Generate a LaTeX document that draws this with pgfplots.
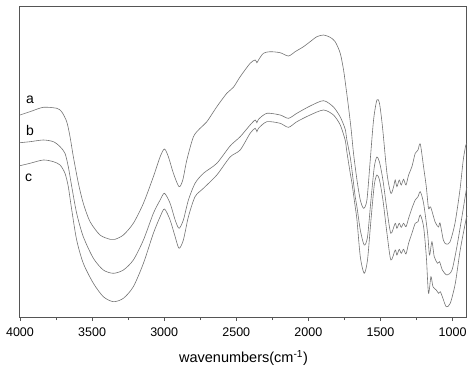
\documentclass[border=0pt]{standalone}
\usepackage{fontspec}
\setmainfont{Liberation Sans}
\usepackage{pgfplots}
\usepackage{pgfplotstable}
\pgfplotsset{compat=1.18}
\definecolor{curve}{RGB}{115,115,115}
\definecolor{frame}{RGB}{85,85,85}

\pgfplotstableread{
wn h
4000 202
3931 205.3
3838 209.7
3745 208.7
3711 205.3
3676 195.3
3653 180.3
3630 160.3
3595 133.7
3561 113.7
3514 95.3
3445 82
3375 77.7
3341 77.7
3283 82
3214 93.7
3144 113.7
3075 140.3
3028 160.3
2998 168
2971 160.3
2936 143.7
2897 130.3
2871 137
2843 157
2797 180.3
2751 188.7
2704 195.3
2635 210.3
2566 223.7
2520 229.7
2473 240.3
2404 253.7
2369 257
2357 254.3
2346 257
2312 263.7
2265 265.3
2196 264.3
2138 261
2092 265.3
2034 270.3
1988 275.3
1941 280.3
1895 282
1849 279.7
1814 275.3
1779 263.7
1756 247
1740 230.3
1722 210.3
1703 187
1687 163.7
1663 137
1640 117
1617 108.7
1594 117
1571 157
1548 197
1525 217
1507 213.7
1486 190
1455 143.7
1428 123.7
1409 130.3
1398 137
1386 130.3
1370 137
1356 132
1340 137.7
1323 132
1305 142
1282 150.3
1259 163.7
1240 167
1224 173
1201 150
1182 130
1167 108.7
1152 110
1121 95
1098 90
1087 94
1064 77
1045 73
1018 75
983 94
949 127
926 157
908 172
900 173
}\dataA

\pgfplotstableread{
wn h
4000 174.3
3931 175.3
3838 177
3768 175.3
3722 170.3
3688 163.7
3665 150.3
3641 130.3
3607 103.7
3561 80.3
3491 58.7
3422 47
3352 43.7
3283 47
3214 57
3144 77
3075 103.7
3028 117
2998 123.7
2959 113.7
2924 97
2897 88.7
2867 97
2832 117
2786 133.7
2728 143.7
2635 153.7
2543 171
2473 180.3
2404 192
2369 197
2357 194.3
2346 197.7
2288 203.7
2196 202
2138 198.7
2080 203.7
1988 211
1895 216.3
1826 210
1779 200
1745 188
1733 177
1710 160
1698 147
1675 120
1663 110
1640 87
1613 72
1590 80
1566 117
1543 150
1525 160
1507 155
1483 137
1455 107
1428 83.7
1398 93.7
1386 88.7
1370 93.7
1356 89.7
1340 93.7
1323 90.3
1305 98.7
1282 108.7
1259 117
1240 120.3
1224 125.3
1201 113.7
1173 83.7
1160 62
1143 75.3
1127 60.3
1104 53.7
1090 55.3
1071 47
1039 42
1004 47
970 70.3
935 100.3
905 127
900 129
}\dataB

\pgfplotstableread{
wn h
4000 151.3
3931 153.7
3838 157
3768 155.3
3722 152
3688 143.7
3665 130.3
3641 107
3607 77
3561 53.7
3491 33.7
3422 20.3
3352 15.3
3283 18.7
3214 30.3
3144 53.7
3075 83.7
3028 100.3
2998 108
2959 97
2924 80.3
2897 68.7
2867 77
2832 100.3
2786 120.3
2728 128.7
2635 142
2543 160
2473 167
2404 183.7
2369 188.7
2357 185.3
2346 188.7
2288 195.3
2196 193.7
2138 189.7
2080 195.3
1988 202
1895 207
1826 202
1779 192
1745 177
1733 165
1710 144
1698 134
1675 110
1663 97
1640 60.3
1613 43.7
1590 57
1566 97
1543 132
1525 142
1507 137
1483 117
1455 83.7
1428 57
1398 67
1386 62
1370 67.7
1356 63.7
1340 67.7
1323 63
1305 73.7
1282 83.7
1259 93.7
1240 95.3
1224 102
1201 90.3
1182 60.3
1167 23.7
1150 40.3
1136 30.3
1113 27
1097 23.7
1085 25.3
1067 18.7
1044 10.3
1016 13.7
981 33.7
947 67
905 98.7
900 100
}\dataC

\begin{document}
\begin{tikzpicture}
\begin{axis}[
  name=ax,
  scale only axis,
  width=447pt, height=311pt,
  x dir=reverse,
  xmin=900, xmax=4000,
  ymin=0, ymax=311,
  xtick={1000,1500,...,4000},
  minor x tick num=1,
  ytick=\empty,
  xtick pos=bottom,
  tick align=outside,
  major tick length=4pt,
  minor tick length=3pt,
  axis line style={frame, line width=1pt},
  every tick/.style={frame, line width=0.8pt},
  /pgf/number format/assume math mode=true,
  /pgf/number format/1000 sep={},
  tick label style={font=\fontsize{12.5}{15}\selectfont},
  xticklabel style={yshift=-3pt},
  xlabel={wavenumbers(cm\textsuperscript{-1})},
  xlabel style={font=\fontsize{14.5}{17}\selectfont, yshift=-7pt},
  clip=false,
]
\addplot[curve, line width=0.6pt, smooth, tension=0.45] table[x=wn, y=h] {\dataA};
\addplot[curve, line width=0.6pt, smooth, tension=0.45] table[x=wn, y=h] {\dataB};
\addplot[curve, line width=0.6pt, smooth, tension=0.45] table[x=wn, y=h] {\dataC};
\node[font=\fontsize{14}{16}\selectfont] at (axis cs:3930,217) {a};
\node[font=\fontsize{14}{16}\selectfont] at (axis cs:3930,187) {b};
\node[font=\fontsize{14}{16}\selectfont] at (axis cs:3940,139) {c};
\end{axis}
\pgfresetboundingbox
\path ([shift={(-20pt,-56pt)}]ax.south west) rectangle ([shift={(7pt,6pt)}]ax.north east);
\end{tikzpicture}
\end{document}
